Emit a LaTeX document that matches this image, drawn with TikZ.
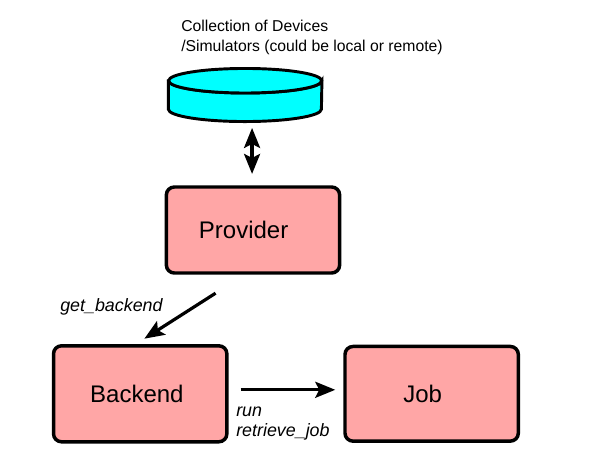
\documentclass[tikz,border=0pt]{standalone}
\usepackage{fontspec}
\setmainfont{Liberation Sans}
\usetikzlibrary{positioning, arrows.meta}
\definecolor{boxPink}{RGB}{255,166,166}
\definecolor{storeCyan}{RGB}{0,255,255}

\begin{document}
\begin{tikzpicture}[
                x=0.75pt, y=-0.75pt,
                % Box Styles
                classBox/.style = {rectangle, draw, rounded corners=6, line width=2.6pt, fill=boxPink, minimum width=130pt, font=\fontsize{18}{22}\selectfont},
                storeSlot/.style = {rectangle, inner sep=0pt, minimum width=114.8pt, minimum height=21pt},
                storeEdge/.style = {draw, line width=2.2pt, fill=storeCyan},
                noteText/.style = {align=left, anchor=north west, inner sep=0pt, font=\fontsize{11.8}{15}\selectfont},
                callText/.style = {align=left, anchor=north west, inner sep=0pt, font=\fontsize{13.4}{14.5}\selectfont\itshape},
                % Arrow Style
                callLine/.style = {-{Stealth[length=15pt, width=12pt, inset=3pt]}, line width=2.4pt}
            ]
                \useasboundingbox (0,0) rectangle (594,462);

                % Classes
                \node[classBox, minimum height=64.5pt] (Provider) at (253,230) {\raisebox{-2pt}{Provider}\hspace*{14pt}};
                \node[classBox, minimum height=72pt, below left=52pt and -48pt of Provider] (Backend) {Backend\hspace*{5pt}};
                \node[classBox, minimum height=71pt, right=86pt of Backend] (Job) {Job\hspace*{13.5pt}};

                % Device collection
                \node[storeSlot, above left=57pt and -118pt of Provider] (Store) {};
                \path[storeEdge] (Store.north west) -- (Store.south west)
                    arc[start angle=180, end angle=360, x radius=57.4pt, y radius=9.2pt] -- (Store.north east)
                    arc[start angle=0, end angle=-180, x radius=57.4pt, y radius=9.2pt] -- cycle;
                \path[storeEdge] (Store.north) ellipse[x radius=57.4pt, y radius=9.2pt];
                \node[noteText] (StoreNote) at (181,20) {Collection of Devices\\/Simulators (could be local or remote)};

                % Method labels
                \node[callText] (GetNote) at (60,298) {get\_backend};
                \node[callText] (RunNote) at (236,407) {run\\retrieve\_job};

                % Connectors
                \draw[callLine, {Stealth[length=15pt, width=12pt, inset=3pt]}-{Stealth[length=15pt, width=12pt, inset=3pt]}, shorten >=8.5pt, shorten <=14pt] ([xshift=5.2pt]Store.south) -- ([xshift=5.2pt]Store.south |- Provider.north);
                \draw[callLine, shorten >=7.5pt, shorten <=25.7pt] ([xshift=-6.4pt]Provider.south) -- ([xshift=-3.2pt]Backend.north);
                \draw[callLine, shorten >=6pt, shorten <=9pt] ([yshift=3pt]Backend.east |- Job.west) -- ([yshift=3pt]Job.west);
            \end{tikzpicture}
\end{document}
